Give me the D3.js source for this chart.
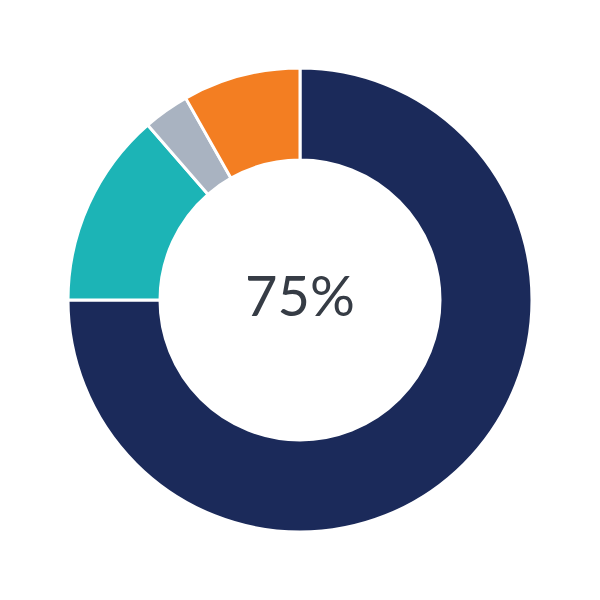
<!DOCTYPE html>
<html>
<head>
<meta charset="utf-8">
<script src="https://cdn.jsdelivr.net/npm/d3@7"></script>
<style>
  html, body { margin: 0; padding: 0; background: #fff; }
</style>
</head>
<body>
<div id="donut-chart"></div>
<script>
// Slice data, clockwise from 12 o'clock
const categories = ['A', 'B', 'C', 'D'];
const values = [75, 13.6, 3.2, 8.2];
const colors = ['#1b2a5a', '#1cb4b6', '#a9b3c1', '#f37e22'];
const centerLabel = '75%';

const width = 600;
const height = 600;
const outerRadius = 232;
const innerRadius = 140;

const svg = d3.select('#donut-chart')
  .append('svg')
  .attr('width', width)
  .attr('height', height)
  .append('g')
  .attr('transform', `translate(${width / 2},${height / 2})`);

const pie = d3.pie()
  .sort(null)
  .value(d => d.value);

const arc = d3.arc()
  .innerRadius(innerRadius)
  .outerRadius(outerRadius);

const data = categories.map((c, i) => ({ name: c, value: values[i], color: colors[i] }));

svg.selectAll('.slice')
  .data(pie(data))
  .enter()
  .append('path')
  .attr('class', 'slice')
  .attr('d', arc)
  .attr('fill', d => d.data.color)
  .attr('stroke', '#fff')
  .attr('stroke-width', 3);

// Center label
svg.append('text')
  .attr('text-anchor', 'middle')
  .attr('dy', '0.29em')
  .style('font-family', 'Lato, sans-serif')
  .style('font-size', '56px')
  .style('fill', '#363c45')
  .text(centerLabel);
</script>
</body>
</html>
